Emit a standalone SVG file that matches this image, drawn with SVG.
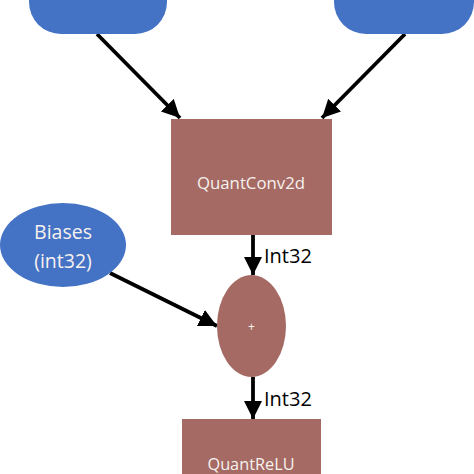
<svg xmlns="http://www.w3.org/2000/svg" width="474" height="474" viewBox="0 0 474 474">
<style>
.blue{fill:#4472C4}
.brown{fill:#A46A63}
.wt{fill:#F7F1EF;font-family:"Open Sans","Liberation Sans",sans-serif;text-anchor:middle}
.lbl{fill:#000;font-family:"Open Sans","Liberation Sans",sans-serif;font-size:20px}
.conn{stroke:#000;stroke-width:3.8;fill:none;marker-end:url(#ah)}
</style>
<defs>
<marker id="ah" markerUnits="userSpaceOnUse" markerWidth="20" markerHeight="20" refX="18" refY="9" orient="auto">
<path d="M0,0 L18,9 L0,18 Z" fill="#000"/>
</marker>
</defs>
<rect width="474" height="474" fill="#fff"/>
<g id="connectors">
<line class="conn" x1="97" y1="34" x2="180" y2="118"/>
<line class="conn" x1="405" y1="34" x2="322" y2="118"/>
<line class="conn" x1="253" y1="235" x2="253" y2="275"/>
<line class="conn" x1="110" y1="273" x2="217" y2="326"/>
<line class="conn" x1="253" y1="377" x2="253" y2="419"/>
</g>
<g id="input-left">
<rect class="blue" x="29" y="-50" width="138" height="84" rx="32"/>
</g>
<g id="input-right">
<rect class="blue" x="334" y="-50" width="140" height="84" rx="32"/>
</g>
<g id="quantconv2d">
<rect class="brown" x="171" y="119" width="161" height="116"/>
<text class="wt" x="251" y="189" font-size="16.8">QuantConv2d</text>
</g>
<g id="biases">
<ellipse class="blue" cx="63" cy="245" rx="63" ry="42"/>
<text class="wt" x="63" y="239" font-size="19.5">Biases</text>
<text class="wt" x="63" y="268" font-size="19.5">(int32)</text>
</g>
<g id="add">
<ellipse class="brown" cx="251.5" cy="326" rx="34.5" ry="51"/>
<text class="wt" x="251.5" y="331" font-size="12">+</text>
</g>
<g id="quantrelu">
<rect class="brown" x="182" y="419" width="139" height="70"/>
<text class="wt" x="251" y="470" font-size="16.3">QuantReLU</text>
</g>
<g id="labels">
<text class="lbl" x="264" y="263">Int32</text>
<text class="lbl" x="264" y="406">Int32</text>
</g>
</svg>
